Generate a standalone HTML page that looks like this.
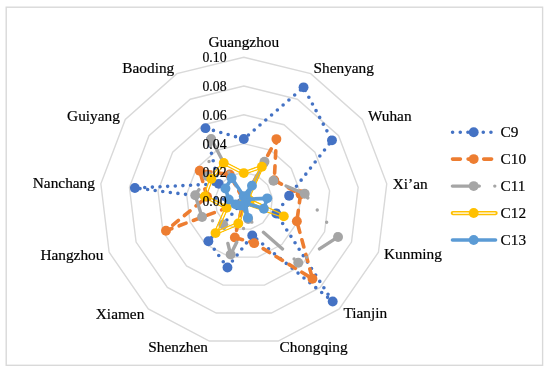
<!DOCTYPE html><html><head><meta charset="utf-8"><style>html,body{margin:0;padding:0;background:#fff;}svg{display:block;}text{stroke:#000;stroke-width:0.2px;}</style></head><body>
<svg width="550" height="372" viewBox="0 0 550 372" font-family='"Liberation Serif", "Times New Roman", serif'>
<rect x="0" y="0" width="550" height="372" fill="#fff"/>
<rect x="6.2" y="7.2" width="536.4" height="358.1" fill="none" stroke="#d9d9d9" stroke-width="1.4"/>
<polygon points="243.80,172.40 257.18,175.70 267.50,184.84 272.39,197.73 270.73,211.41 262.90,222.76 250.69,229.16 236.91,229.16 224.70,222.76 216.87,211.41 215.21,197.73 220.10,184.84 230.42,175.70" fill="none" stroke="#d9d9d9" stroke-width="1.4"/>
<polygon points="243.80,143.60 270.57,150.20 291.20,168.48 300.98,194.26 297.66,221.63 282.00,244.31 257.58,257.13 230.02,257.13 205.60,244.31 189.94,221.63 186.62,194.26 196.40,168.48 217.03,150.20" fill="none" stroke="#d9d9d9" stroke-width="1.4"/>
<polygon points="243.80,114.80 283.95,124.70 314.91,152.12 329.57,190.79 324.59,231.84 301.09,265.87 264.48,285.09 223.12,285.09 186.51,265.87 163.01,231.84 158.03,190.79 172.69,152.12 203.65,124.70" fill="none" stroke="#d9d9d9" stroke-width="1.4"/>
<polygon points="243.80,86.00 297.34,99.20 338.61,135.76 358.16,187.31 351.51,242.05 320.19,287.43 271.37,313.05 216.23,313.05 167.41,287.43 136.09,242.05 129.44,187.31 148.99,135.76 190.26,99.20" fill="none" stroke="#d9d9d9" stroke-width="1.4"/>
<polygon points="243.80,57.20 310.72,73.69 362.31,119.40 386.75,183.84 378.44,252.26 339.29,308.99 278.26,341.02 209.34,341.02 148.31,308.99 109.16,252.26 100.85,183.84 125.29,119.40 176.88,73.69" fill="none" stroke="#d9d9d9" stroke-width="1.4"/>
<path d="M243.80,138.99 L303.56,87.34" fill="none" stroke="#4472C4" stroke-width="3.6" stroke-linecap="round" stroke-dasharray="0 7.64" stroke-dashoffset="1.50"/>
<path d="M303.56,87.34 L331.97,140.34" fill="none" stroke="#4472C4" stroke-width="3.6" stroke-linecap="round" stroke-dasharray="0 7.64" stroke-dashoffset="4.09"/>
<path d="M331.97,140.34 L289.12,195.70" fill="none" stroke="#4472C4" stroke-width="3.6" stroke-linecap="round" stroke-dasharray="0 7.64" stroke-dashoffset="3.11"/>
<path d="M289.12,195.70 L276.25,213.51" fill="none" stroke="#4472C4" stroke-width="3.6" stroke-linecap="round" stroke-dasharray="0 7.64" stroke-dashoffset="4.36"/>
<path d="M276.25,213.51 L332.70,301.55" fill="none" stroke="#4472C4" stroke-width="3.6" stroke-linecap="round" stroke-dasharray="0 7.64" stroke-dashoffset="3.41"/>
<path d="M332.70,301.55 L252.24,235.45" fill="none" stroke="#4472C4" stroke-width="3.6" stroke-linecap="round" stroke-dasharray="0 7.64" stroke-dashoffset="1.03"/>
<path d="M252.24,235.45 L227.47,267.47" fill="none" stroke="#4472C4" stroke-width="3.6" stroke-linecap="round" stroke-dasharray="0 7.64" stroke-dashoffset="5.84"/>
<path d="M227.47,267.47 L208.37,241.19" fill="none" stroke="#4472C4" stroke-width="3.6" stroke-linecap="round" stroke-dasharray="0 7.64" stroke-dashoffset="0.48"/>
<path d="M208.37,241.19 L242.86,201.56" fill="none" stroke="#4472C4" stroke-width="3.6" stroke-linecap="round" stroke-dasharray="0 7.64" stroke-dashoffset="2.41"/>
<path d="M242.86,201.56 L134.87,187.97" fill="none" stroke="#4472C4" stroke-width="3.6" stroke-linecap="round" stroke-dasharray="0 7.64" stroke-dashoffset="3.30"/>
<path d="M134.87,187.97 L218.68,183.86" fill="none" stroke="#4472C4" stroke-width="3.6" stroke-linecap="round" stroke-dasharray="0 7.64" stroke-dashoffset="5.38"/>
<path d="M218.68,183.86 L205.45,128.14" fill="none" stroke="#4472C4" stroke-width="3.6" stroke-linecap="round" stroke-dasharray="0 7.64" stroke-dashoffset="6.84"/>
<path d="M205.45,128.14 L243.80,138.99" fill="none" stroke="#4472C4" stroke-width="3.6" stroke-linecap="round" stroke-dasharray="0 7.64" stroke-dashoffset="6.99"/>
<circle cx="243.80" cy="138.99" r="4.95" fill="#4472C4"/>
<circle cx="303.56" cy="87.34" r="4.95" fill="#4472C4"/>
<circle cx="331.97" cy="140.34" r="4.95" fill="#4472C4"/>
<circle cx="289.12" cy="195.70" r="4.95" fill="#4472C4"/>
<circle cx="276.25" cy="213.51" r="4.95" fill="#4472C4"/>
<circle cx="332.70" cy="301.55" r="4.95" fill="#4472C4"/>
<circle cx="252.24" cy="235.45" r="4.95" fill="#4472C4"/>
<circle cx="227.47" cy="267.47" r="4.95" fill="#4472C4"/>
<circle cx="208.37" cy="241.19" r="4.95" fill="#4472C4"/>
<circle cx="242.86" cy="201.56" r="4.95" fill="#4472C4"/>
<circle cx="134.87" cy="187.97" r="4.95" fill="#4472C4"/>
<circle cx="218.68" cy="183.86" r="4.95" fill="#4472C4"/>
<circle cx="205.45" cy="128.14" r="4.95" fill="#4472C4"/>
<path d="M243.80,200.48 L276.39,139.10" fill="none" stroke="#ED7D31" stroke-width="3.6" stroke-linecap="round" stroke-dasharray="7.4 7.7" stroke-dashoffset="9.40"/>
<path d="M276.39,139.10 L274.26,180.18" fill="none" stroke="#ED7D31" stroke-width="3.6" stroke-linecap="round" stroke-dasharray="7.4 7.7" stroke-dashoffset="3.39"/>
<path d="M274.26,180.18 L300.55,194.31" fill="none" stroke="#ED7D31" stroke-width="3.6" stroke-linecap="round" stroke-dasharray="7.4 7.7" stroke-dashoffset="14.32"/>
<path d="M300.55,194.31 L296.85,221.32" fill="none" stroke="#ED7D31" stroke-width="3.6" stroke-linecap="round" stroke-dasharray="7.4 7.7" stroke-dashoffset="13.97"/>
<path d="M296.85,221.32 L312.46,278.70" fill="none" stroke="#ED7D31" stroke-width="3.6" stroke-linecap="round" stroke-dasharray="7.4 7.7" stroke-dashoffset="11.03"/>
<path d="M312.46,278.70 L254.14,243.14" fill="none" stroke="#ED7D31" stroke-width="3.6" stroke-linecap="round" stroke-dasharray="7.4 7.7" stroke-dashoffset="10.10"/>
<path d="M254.14,243.14 L234.87,237.41" fill="none" stroke="#ED7D31" stroke-width="3.6" stroke-linecap="round" stroke-dasharray="7.4 7.7" stroke-dashoffset="2.90"/>
<path d="M234.87,237.41 L243.32,201.74" fill="none" stroke="#ED7D31" stroke-width="3.6" stroke-linecap="round" stroke-dasharray="7.4 7.7" stroke-dashoffset="7.90"/>
<path d="M243.32,201.74 L165.98,230.71" fill="none" stroke="#ED7D31" stroke-width="3.6" stroke-linecap="round" stroke-dasharray="7.4 7.7" stroke-dashoffset="14.36"/>
<path d="M165.98,230.71 L207.06,196.74" fill="none" stroke="#ED7D31" stroke-width="3.6" stroke-linecap="round" stroke-dasharray="7.4 7.7" stroke-dashoffset="6.35"/>
<path d="M207.06,196.74 L199.71,170.77" fill="none" stroke="#ED7D31" stroke-width="3.6" stroke-linecap="round" stroke-dasharray="7.4 7.7" stroke-dashoffset="14.37"/>
<path d="M199.71,170.77 L229.75,174.42" fill="none" stroke="#ED7D31" stroke-width="3.6" stroke-linecap="round" stroke-dasharray="7.4 7.7" stroke-dashoffset="11.15"/>
<path d="M229.75,174.42 L243.80,200.48" fill="none" stroke="#ED7D31" stroke-width="3.6" stroke-linecap="round" stroke-dasharray="7.4 7.7" stroke-dashoffset="11.21"/>
<circle cx="243.80" cy="200.48" r="4.95" fill="#ED7D31"/>
<circle cx="276.39" cy="139.10" r="4.95" fill="#ED7D31"/>
<circle cx="274.26" cy="180.18" r="4.95" fill="#ED7D31"/>
<circle cx="300.55" cy="194.31" r="4.95" fill="#ED7D31"/>
<circle cx="296.85" cy="221.32" r="4.95" fill="#ED7D31"/>
<circle cx="312.46" cy="278.70" r="4.95" fill="#ED7D31"/>
<circle cx="254.14" cy="243.14" r="4.95" fill="#ED7D31"/>
<circle cx="234.87" cy="237.41" r="4.95" fill="#ED7D31"/>
<circle cx="243.32" cy="201.74" r="4.95" fill="#ED7D31"/>
<circle cx="165.98" cy="230.71" r="4.95" fill="#ED7D31"/>
<circle cx="207.06" cy="196.74" r="4.95" fill="#ED7D31"/>
<circle cx="199.71" cy="170.77" r="4.95" fill="#ED7D31"/>
<circle cx="229.75" cy="174.42" r="4.95" fill="#ED7D31"/>
<path d="M243.80,200.48 L264.48,161.80" fill="none" stroke="#A5A5A5" stroke-width="3.4" stroke-linecap="round" stroke-dasharray="25.3 15.4 0 15.4 0 15.4" stroke-dashoffset="64.50"/>
<path d="M264.48,161.80 L273.43,180.75" fill="none" stroke="#A5A5A5" stroke-width="3.4" stroke-linecap="round" stroke-dasharray="25.3 15.4 0 15.4 0 15.4" stroke-dashoffset="36.86"/>
<path d="M273.43,180.75 L304.70,193.81" fill="none" stroke="#A5A5A5" stroke-width="3.4" stroke-linecap="round" stroke-dasharray="25.3 15.4 0 15.4 0 15.4" stroke-dashoffset="57.82"/>
<path d="M304.70,193.81 L338.05,236.94" fill="none" stroke="#A5A5A5" stroke-width="3.4" stroke-linecap="round" stroke-dasharray="25.3 15.4 0 15.4 0 15.4" stroke-dashoffset="20.20"/>
<path d="M338.05,236.94 L298.23,262.64" fill="none" stroke="#A5A5A5" stroke-width="3.4" stroke-linecap="round" stroke-dasharray="25.3 15.4 0 15.4 0 15.4" stroke-dashoffset="3.23"/>
<path d="M298.23,262.64 L248.18,218.96" fill="none" stroke="#A5A5A5" stroke-width="3.4" stroke-linecap="round" stroke-dasharray="25.3 15.4 0 15.4 0 15.4" stroke-dashoffset="50.62"/>
<path d="M248.18,218.96 L230.64,254.61" fill="none" stroke="#A5A5A5" stroke-width="3.4" stroke-linecap="round" stroke-dasharray="25.3 15.4 0 15.4 0 15.4" stroke-dashoffset="45.55"/>
<path d="M230.64,254.61 L223.17,224.48" fill="none" stroke="#A5A5A5" stroke-width="3.4" stroke-linecap="round" stroke-dasharray="25.3 15.4 0 15.4 0 15.4" stroke-dashoffset="13.79"/>
<path d="M223.17,224.48 L202.06,217.03" fill="none" stroke="#A5A5A5" stroke-width="3.4" stroke-linecap="round" stroke-dasharray="25.3 15.4 0 15.4 0 15.4" stroke-dashoffset="44.82"/>
<path d="M202.06,217.03 L195.20,195.30" fill="none" stroke="#A5A5A5" stroke-width="3.4" stroke-linecap="round" stroke-dasharray="25.3 15.4 0 15.4 0 15.4" stroke-dashoffset="67.21"/>
<path d="M195.20,195.30 L207.65,176.25" fill="none" stroke="#A5A5A5" stroke-width="3.4" stroke-linecap="round" stroke-dasharray="25.3 15.4 0 15.4 0 15.4" stroke-dashoffset="18.50"/>
<path d="M207.65,176.25 L211.14,138.98" fill="none" stroke="#A5A5A5" stroke-width="3.4" stroke-linecap="round" stroke-dasharray="25.3 15.4 0 15.4 0 15.4" stroke-dashoffset="41.26"/>
<path d="M211.14,138.98 L243.80,200.48" fill="none" stroke="#A5A5A5" stroke-width="3.4" stroke-linecap="round" stroke-dasharray="25.3 15.4 0 15.4 0 15.4" stroke-dashoffset="3.00"/>
<circle cx="243.80" cy="200.48" r="4.95" fill="#A5A5A5"/>
<circle cx="264.48" cy="161.80" r="4.95" fill="#A5A5A5"/>
<circle cx="273.43" cy="180.75" r="4.95" fill="#A5A5A5"/>
<circle cx="304.70" cy="193.81" r="4.95" fill="#A5A5A5"/>
<circle cx="338.05" cy="236.94" r="4.95" fill="#A5A5A5"/>
<circle cx="298.23" cy="262.64" r="4.95" fill="#A5A5A5"/>
<circle cx="248.18" cy="218.96" r="4.95" fill="#A5A5A5"/>
<circle cx="230.64" cy="254.61" r="4.95" fill="#A5A5A5"/>
<circle cx="223.17" cy="224.48" r="4.95" fill="#A5A5A5"/>
<circle cx="202.06" cy="217.03" r="4.95" fill="#A5A5A5"/>
<circle cx="195.20" cy="195.30" r="4.95" fill="#A5A5A5"/>
<circle cx="207.65" cy="176.25" r="4.95" fill="#A5A5A5"/>
<circle cx="211.14" cy="138.98" r="4.95" fill="#A5A5A5"/>
<mask id="mC12" maskUnits="userSpaceOnUse" x="0" y="0" width="550" height="372">
<path d="M243.80,173.12 L261.87,166.77 L247.83,198.42 L249.80,200.47 L283.79,216.37 L245.42,203.03 L244.32,203.30 L238.29,223.57 L215.54,233.10 L226.57,207.74 L204.77,196.46 L211.33,178.79 L223.72,162.95 L243.80,173.12" fill="none" stroke="#fff" stroke-width="4.2" stroke-linejoin="round" stroke-linecap="round"/>
<path d="M243.80,173.12 L261.87,166.77 L247.83,198.42 L249.80,200.47 L283.79,216.37 L245.42,203.03 L244.32,203.30 L238.29,223.57 L215.54,233.10 L226.57,207.74 L204.77,196.46 L211.33,178.79 L223.72,162.95 L243.80,173.12" fill="none" stroke="#000" stroke-width="1.3" stroke-linejoin="round" stroke-linecap="round"/>
</mask>
<path d="M243.80,173.12 L261.87,166.77 L247.83,198.42 L249.80,200.47 L283.79,216.37 L245.42,203.03 L244.32,203.30 L238.29,223.57 L215.54,233.10 L226.57,207.74 L204.77,196.46 L211.33,178.79 L223.72,162.95 L243.80,173.12" fill="none" stroke="#FFC000" stroke-width="4.2" stroke-linejoin="round" stroke-linecap="round" mask="url(#mC12)"/>
<circle cx="243.80" cy="173.12" r="4.95" fill="#FFC000"/>
<circle cx="261.87" cy="166.77" r="4.95" fill="#FFC000"/>
<circle cx="247.83" cy="198.42" r="4.95" fill="#FFC000"/>
<circle cx="249.80" cy="200.47" r="4.95" fill="#FFC000"/>
<circle cx="283.79" cy="216.37" r="4.95" fill="#FFC000"/>
<circle cx="245.42" cy="203.03" r="4.95" fill="#FFC000"/>
<circle cx="244.32" cy="203.30" r="4.95" fill="#FFC000"/>
<circle cx="238.29" cy="223.57" r="4.95" fill="#FFC000"/>
<circle cx="215.54" cy="233.10" r="4.95" fill="#FFC000"/>
<circle cx="226.57" cy="207.74" r="4.95" fill="#FFC000"/>
<circle cx="204.77" cy="196.46" r="4.95" fill="#FFC000"/>
<circle cx="211.33" cy="178.79" r="4.95" fill="#FFC000"/>
<circle cx="223.72" cy="162.95" r="4.95" fill="#FFC000"/>
<path d="M243.80,196.16 L251.96,185.64 L246.64,199.24 L267.24,198.35 L263.86,208.81 L245.42,203.03 L247.90,217.84 L242.77,205.39 L239.98,205.51 L235.45,204.37 L228.79,199.38 L225.43,188.52 L231.62,177.99 L243.80,196.16" fill="none" stroke="#5B9BD5" stroke-width="3.6" stroke-linejoin="round" stroke-linecap="round"/>
<circle cx="243.80" cy="196.16" r="4.95" fill="#5B9BD5"/>
<circle cx="251.96" cy="185.64" r="4.95" fill="#5B9BD5"/>
<circle cx="246.64" cy="199.24" r="4.95" fill="#5B9BD5"/>
<circle cx="267.24" cy="198.35" r="4.95" fill="#5B9BD5"/>
<circle cx="263.86" cy="208.81" r="4.95" fill="#5B9BD5"/>
<circle cx="245.42" cy="203.03" r="4.95" fill="#5B9BD5"/>
<circle cx="247.90" cy="217.84" r="4.95" fill="#5B9BD5"/>
<circle cx="242.77" cy="205.39" r="4.95" fill="#5B9BD5"/>
<circle cx="239.98" cy="205.51" r="4.95" fill="#5B9BD5"/>
<circle cx="235.45" cy="204.37" r="4.95" fill="#5B9BD5"/>
<circle cx="228.79" cy="199.38" r="4.95" fill="#5B9BD5"/>
<circle cx="225.43" cy="188.52" r="4.95" fill="#5B9BD5"/>
<circle cx="231.62" cy="177.99" r="4.95" fill="#5B9BD5"/>
<text transform="translate(226.6 206.1) scale(0.92 1)" font-size="15" text-anchor="end" fill="#000">0.00</text>
<text transform="translate(226.6 177.3) scale(0.92 1)" font-size="15" text-anchor="end" fill="#000">0.02</text>
<text transform="translate(226.6 148.5) scale(0.92 1)" font-size="15" text-anchor="end" fill="#000">0.04</text>
<text transform="translate(226.6 119.7) scale(0.92 1)" font-size="15" text-anchor="end" fill="#000">0.06</text>
<text transform="translate(226.6 90.9) scale(0.92 1)" font-size="15" text-anchor="end" fill="#000">0.08</text>
<text transform="translate(226.6 62.1) scale(0.92 1)" font-size="15" text-anchor="end" fill="#000">0.10</text>
<text transform="translate(208.5 47) scale(0.996 1)" font-size="15.4" fill="#000">Guangzhou</text>
<text transform="translate(313.5 73.3) scale(0.996 1)" font-size="15.4" fill="#000">Shenyang</text>
<text transform="translate(367.9 121) scale(0.996 1)" font-size="15.4" fill="#000">Wuhan</text>
<text transform="translate(392.7 188.5) scale(0.996 1)" font-size="15.4" fill="#000">Xi’an</text>
<text transform="translate(384.0 259.3) scale(0.996 1)" font-size="15.4" fill="#000">Kunming</text>
<text transform="translate(343.4 318.2) scale(0.996 1)" font-size="15.4" fill="#000">Tianjin</text>
<text transform="translate(279.5 352) scale(0.996 1)" font-size="15.4" fill="#000">Chongqing</text>
<text transform="translate(148.3 351.6) scale(0.996 1)" font-size="15.4" fill="#000">Shenzhen</text>
<text transform="translate(95.8 318.6) scale(0.996 1)" font-size="15.4" fill="#000">Xiamen</text>
<text transform="translate(40.4 259.5) scale(0.996 1)" font-size="15.4" fill="#000">Hangzhou</text>
<text transform="translate(32.8 187.9) scale(0.996 1)" font-size="15.4" fill="#000">Nanchang</text>
<text transform="translate(67.1 120.6) scale(0.996 1)" font-size="15.4" fill="#000">Guiyang</text>
<text transform="translate(122.3 73) scale(0.996 1)" font-size="15.4" fill="#000">Baoding</text>
<path d="M452.6,132.2 L491,132.2" stroke="#4472C4" stroke-width="3.6" stroke-linecap="round" stroke-dasharray="0 7.67"/>
<circle cx="473.7" cy="132.2" r="4.95" fill="#4472C4"/>
<text transform="translate(500.5 137.2) scale(0.996 1)" font-size="15.4" fill="#000">C9</text>
<path d="M452.5,159.1 L491.6,159.1" stroke="#ED7D31" stroke-width="3.6" stroke-linecap="round" stroke-dasharray="7.9 7.7"/>
<circle cx="473.7" cy="159.1" r="4.95" fill="#ED7D31"/>
<text transform="translate(500.5 164.1) scale(0.996 1)" font-size="15.4" fill="#000">C10</text>
<path d="M452.4,186.1 L479.3,186.1" stroke="#A5A5A5" stroke-width="3.4" stroke-linecap="round"/>
<circle cx="494.8" cy="186.1" r="1.7" fill="#A5A5A5"/>
<circle cx="473.7" cy="186.1" r="4.95" fill="#A5A5A5"/>
<text transform="translate(500.5 191.1) scale(0.996 1)" font-size="15.4" fill="#000">C11</text>
<path d="M452.8,213.05 L495.6,213.05" stroke="#FFC000" stroke-width="4.2" stroke-linecap="round"/>
<path d="M452.8,213.05 L495.6,213.05" stroke="#fff" stroke-width="1.3"/>
<circle cx="473.7" cy="213.05" r="4.95" fill="#FFC000"/>
<text transform="translate(500.5 218.05) scale(0.996 1)" font-size="15.4" fill="#000">C12</text>
<path d="M452.5,240.0 L495.5,240.0" stroke="#5B9BD5" stroke-width="3.6" stroke-linecap="round"/>
<circle cx="473.7" cy="240.0" r="4.95" fill="#5B9BD5"/>
<text transform="translate(500.5 245.0) scale(0.996 1)" font-size="15.4" fill="#000">C13</text>
</svg></body></html>
